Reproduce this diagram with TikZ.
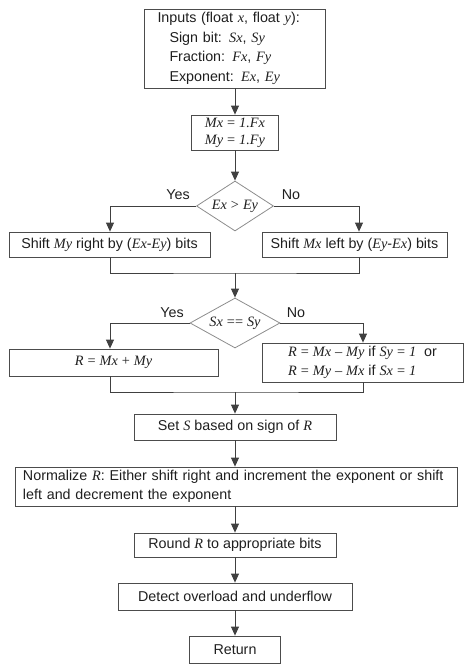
\documentclass[tikz,border=0pt]{standalone}
\usepackage{fontspec}
\setmainfont{Liberation Sans}
\newfontfamily\tms{Liberation Serif}
\newcommand\vr[1]{{\tms\itshape #1}}
\newcommand\op[1]{{\tms #1}}
\usetikzlibrary{shapes.geometric,arrows.meta}
\begin{document}
\begin{tikzpicture}[x=1pt,y=-1pt,
  every node/.style={font=\fontsize{14.3}{19.5}\selectfont, text=black!88},
  box/.style={draw=black!70, line width=0.8pt, rectangle, inner sep=0pt, align=center},
  dec/.style={draw=black!45, line width=0.8pt, diamond, inner sep=0pt, shape aspect=1.5},
  lbl/.style={inner sep=0pt},
  conn/.style={draw=black!75, line width=0.8pt},
  arr/.style={conn, -{Triangle[length=9pt,width=8pt]}}]
\useasboundingbox (0,0) rectangle (472,672);
% nodes
\node[box, minimum width=181pt, minimum height=79pt, text width=155pt, inner xsep=13pt, align=left] (in) at (235,48.5)
  {Inputs (float \vr{x}, float \vr{y}):\\
   \hspace*{12pt}Sign bit: \vr{Sx}, \vr{Sy}\\
   \hspace*{12pt}Fraction: \vr{Fx}, \vr{Fy}\\
   \hspace*{12pt}Exponent: \vr{Ex}, \vr{Ey}};
\node[box, minimum width=87pt, minimum height=35pt, font=\fontsize{14.3}{17}\selectfont] (mx) at (235,132.5)
  {\vr{Mx} \op{=} \vr{1.Fx}\\ \vr{My} \op{=} \vr{1.Fy}};
\node[dec, minimum width=77pt, minimum height=50pt] (d1) at (235,206) {\vr{Ex} \op{>} \vr{Ey}};
\node[box, minimum width=201pt, minimum height=25pt] (s1) at (109.5,244.5)
  {Shift \vr{My} right by (\vr{Ex}-\vr{Ey}) bits};
\node[box, minimum width=185pt, minimum height=25pt] (s2) at (354.5,244.5)
  {Shift \vr{Mx} left by (\vr{Ey}-\vr{Ex}) bits};
\coordinate (xl) at (110,0);
\coordinate (xr) at (359,0);
\coordinate (m1) at (235,273);
\node[dec, minimum width=90pt, minimum height=50pt] (d2) at (235,323) {\vr{Sx} \op{==} \vr{Sy}};
\node[box, minimum width=209pt, minimum height=27pt] (r1) at (113.5,362.5)
  {\vr{R} \op{=} \vr{Mx} \op{+} \vr{My}};
\node[box, minimum width=201pt, minimum height=39pt, align=left] (r2) at (362.5,362.5)
  {\vr{R} \op{=} \vr{Mx} \op{\textendash} \vr{My} if \vr{Sy} \op{=} \vr{1}\ \ or\\
   \vr{R} \op{=} \vr{My} \op{\textendash} \vr{Mx} if \vr{Sx} \op{=} \vr{1}};
\coordinate (xl2) at (110,0);
\coordinate (xr2) at (363,0);
\coordinate (m2) at (235,392);
\node[box, minimum width=202pt, minimum height=26pt] (ss) at (235,427)
  {Set \vr{S} based on sign of \vr{R}};
\node[box, minimum width=442pt, minimum height=39pt, text width=426pt, inner xsep=8pt, align=left] (nr) at (236,486.5)
  {Normalize \vr{R}: Either shift right and increment the exponent or shift left and decrement the exponent};
\node[box, minimum width=202pt, minimum height=24pt] (rd) at (235,545)
  {Round \vr{R} to appropriate bits};
\node[box, minimum width=234pt, minimum height=27pt] (dt) at (235,596.5)
  {Detect overload and underflow};
\node[box, minimum width=91pt, minimum height=27pt] (rt) at (235,649.5) {Return};
% labels
\node[lbl] (y1) at (178,195) {Yes};
\node[lbl] (n1) at (291,195) {No};
\node[lbl] (y2) at (172,313) {Yes};
\node[lbl] (n2) at (296,313) {No};
% connectors
\draw[arr] (in.south) -- (mx.north);
\draw[arr] (mx.south) -- (d1.north);
\draw[arr] (d1.west) -| (s1.north -| xl);
\draw[arr] (d1.east) -| (s2.north -| xr);
\draw[conn] (s1.south -| xl) |- (m1) -| (s2.south -| xr);
\draw[arr] (m1) -- (d2.north);
\draw[arr] (d2.west) -| (r1.north -| xl2);
\draw[arr] (d2.east) -| (r2.north -| xr2);
\draw[conn] (r1.south -| xl2) |- (m2) -| (r2.south -| xr2);
\draw[arr] (m2) -- (ss.north);
\draw[arr] (ss.south) -- (nr.north -| ss.south);
\draw[arr] (nr.south -| rd.north) -- (rd.north);
\draw[arr] (rd.south) -- (dt.north);
\draw[arr] (dt.south) -- (rt.north);
\end{tikzpicture}
\end{document}
